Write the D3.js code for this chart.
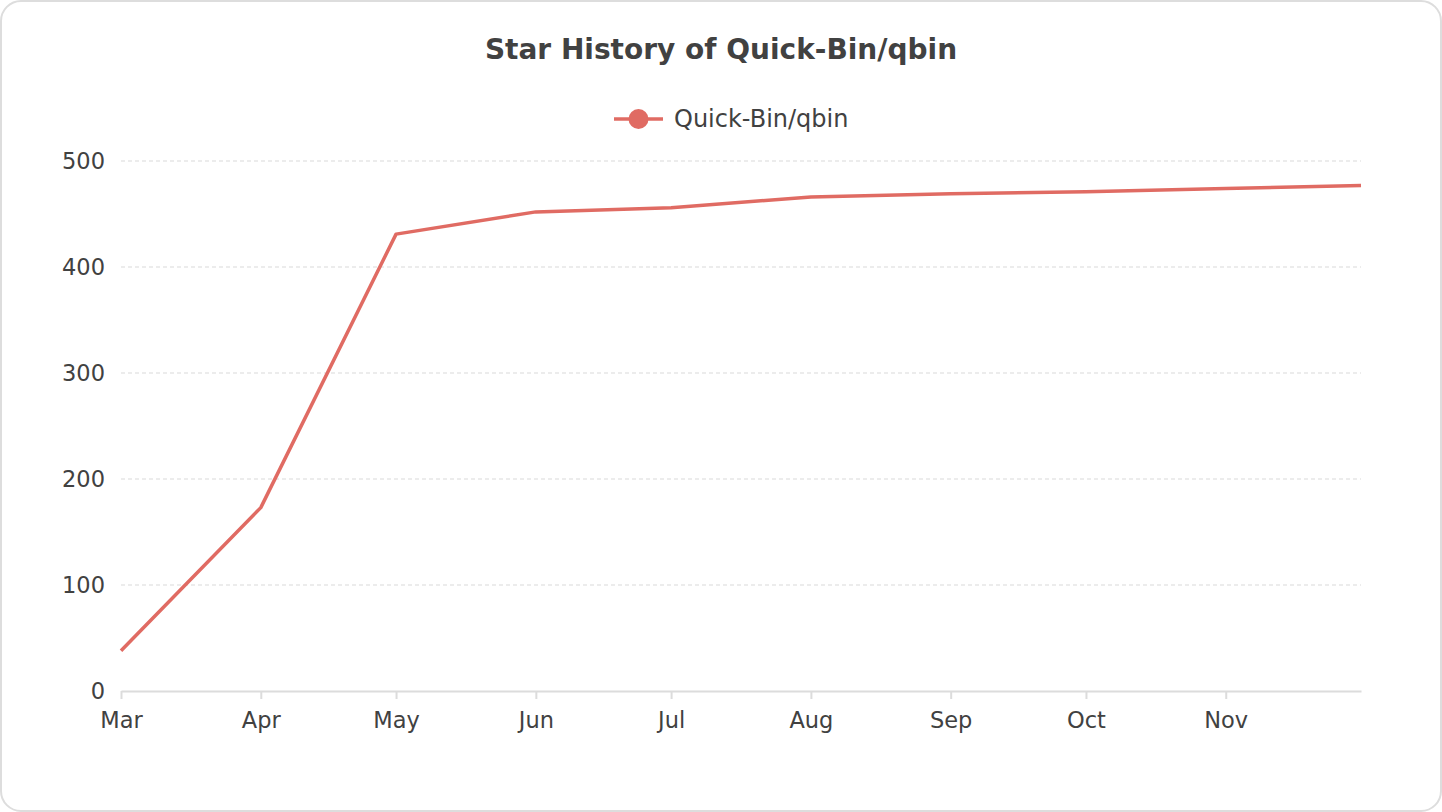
<!DOCTYPE html>
<html>
<head>
<meta charset="utf-8">
<script src="https://cdn.jsdelivr.net/npm/d3@7.9.0/dist/d3.min.js"></script>
<style>
  html, body { margin: 0; padding: 0; background: #fff; }
  svg { display: block; font-family: "DejaVu Sans", sans-serif; }
</style>
</head>
<body>
<svg id="chart"></svg>
<script>
// star counts, one per month start
const dates = ["2023-03-01", "2023-04-01", "2023-05-01", "2023-06-01", "2023-07-01",
               "2023-08-01", "2023-09-01", "2023-10-01", "2023-11-01", "2023-12-01"];
const stars = [38, 173, 431, 452, 456, 466, 469, 471, 474, 477];
const yTicks = [0, 100, 200, 300, 400, 500];
const repoName = "Quick-Bin/qbin";

const width = 1442;
const height = 812;
const margin = { top: 161, right: 81, bottom: 121, left: 121 };
const lineColor = "#e06b63";
const textColor = "#414141";

const parseDate = d3.timeParse("%Y-%m-%d");
const data = dates.map((d, i) => ({ date: parseDate(d), value: stars[i] }));

const svg = d3.select("#chart")
  .attr("width", width)
  .attr("height", height);

// card outline
svg.append("rect")
  .attr("x", 1).attr("y", 1)
  .attr("width", width - 2).attr("height", height - 2)
  .attr("rx", 20)
  .attr("fill", "#fff")
  .attr("stroke", "#dddddd")
  .attr("stroke-width", 2);

const x = d3.scaleTime()
  .domain([parseDate("2023-03-01"), parseDate("2023-12-01")])
  .range([margin.left, width - margin.right]);

const y = d3.scaleLinear()
  .domain([0, 500])
  .range([height - margin.bottom, margin.top]);

// grid lines
svg.append("g")
  .selectAll("line")
  .data(yTicks.filter(t => t > 0))
  .join("line")
  .attr("x1", margin.left)
  .attr("x2", width - margin.right)
  .attr("y1", d => y(d))
  .attr("y2", d => y(d))
  .attr("stroke", "#d9d9d9")
  .attr("stroke-dasharray", "4,3");

// y labels
svg.append("g")
  .selectAll("text")
  .data(yTicks)
  .join("text")
  .attr("x", 105)
  .attr("y", d => y(d) + 8)
  .attr("text-anchor", "end")
  .attr("font-size", 22.5)
  .attr("fill", textColor)
  .text(d => d);

// x axis
const xAxis = d3.axisBottom(x)
  .ticks(d3.timeMonth.every(1))
  .tickFormat(d3.timeFormat("%b"))
  .tickSize(8)
  .tickSizeOuter(0)
  .tickPadding(13);

const gx = svg.append("g")
  .attr("transform", `translate(0,${height - margin.bottom})`)
  .call(xAxis);

gx.select(".domain").attr("stroke", "#dcdcdc").attr("stroke-width", 2);
gx.selectAll(".tick line").attr("stroke", "#dcdcdc").attr("stroke-width", 2);
gx.selectAll(".tick").filter(d => d >= parseDate("2023-12-01")).remove();
gx.selectAll(".tick text")
  .attr("font-size", 22.5)
  .attr("font-family", "DejaVu Sans, sans-serif")
  .attr("fill", textColor);

// series line
const line = d3.line()
  .x(d => x(d.date))
  .y(d => y(d.value));

svg.append("path")
  .datum(data)
  .attr("d", line)
  .attr("fill", "none")
  .attr("stroke", lineColor)
  .attr("stroke-width", 3.5)
  .attr("stroke-linejoin", "round");

// title
svg.append("text")
  .attr("x", width / 2)
  .attr("y", 59)
  .attr("text-anchor", "middle")
  .attr("font-size", 28)
  .attr("font-weight", "bold")
  .attr("fill", textColor)
  .text("Star History of " + repoName);

// legend
const legend = svg.append("g");
legend.append("line")
  .attr("x1", 614).attr("x2", 663)
  .attr("y1", 119).attr("y2", 119)
  .attr("stroke", lineColor)
  .attr("stroke-width", 3.5);
legend.append("circle")
  .attr("cx", 638.5).attr("cy", 119)
  .attr("r", 10)
  .attr("fill", lineColor);
legend.append("text")
  .attr("x", 674).attr("y", 127)
  .attr("font-size", 24)
  .attr("fill", textColor)
  .text(repoName);
</script>
</body>
</html>
